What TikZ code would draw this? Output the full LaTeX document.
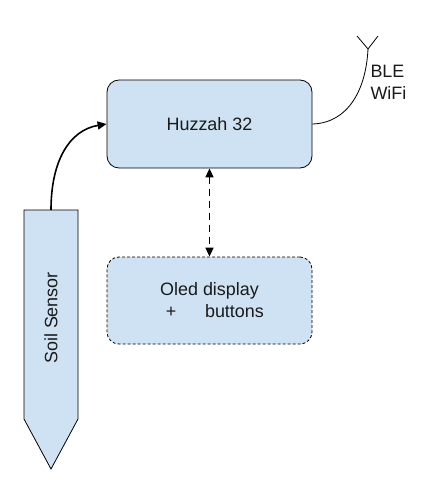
\documentclass[tikz,border=0pt]{standalone}
\usepackage{fontspec}
\setmainfont{Liberation Sans}
\usetikzlibrary{arrows.meta}

\definecolor{boxblue}{HTML}{CFE2F3}
\definecolor{textgray}{HTML}{1A1A1A}

\tikzset{
	blockbox/.style={draw=black, fill=boxblue, rounded corners=12bp, line width=0.8bp,
		minimum width=205bp, minimum height=88bp, align=center, text=textgray,
		font=\fontsize{18}{22}\selectfont},
	linkarrow/.style={line width=1.6bp, -{Triangle[length=9bp,width=8bp]}},
	busarrow/.style={line width=1.6bp, dash pattern=on 7bp off 5bp,
		{Triangle[length=9bp,width=8bp]}-{Triangle[length=9bp,width=8bp]}},
}

\begin{document}
\begin{tikzpicture}[x=1bp,y=-1bp]
	\useasboundingbox (0,0) rectangle (428,481);
	% main board
	\node[blockbox] (huzzah) at (209.5,124) {Huzzah 32};
	% display
	\node[blockbox, dash pattern=on 3bp off 2bp, minimum height=87bp] (oled) at (209.5,300.5) {Oled display\\ \hspace{0.6em}+\hspace{1.6em}buttons};
	% soil sensor probe
	\filldraw[draw=black, fill=boxblue, line width=0.8bp] (24,210) -- (78,210) -- (78,419) -- (51,469) -- (24,419) -- cycle;
	\coordinate (sensortop) at (51,210);
	\node[rotate=90, text=textgray, font=\fontsize{18}{22}\selectfont] (soil) at (51,318) {Soil Sensor};
	% antenna
	\coordinate (antenna) at (368,49);
	\draw[line width=0.8bp] (357,36) -- (antenna) -- (378,36);
	\draw[line width=0.8bp] (huzzah.east) .. controls (348,123) and (366,90) .. (antenna);
	\node[anchor=west, align=left, text=textgray, font=\fontsize{18}{22}\selectfont] (radio) at (367,82) {BLE\\WiFi};
	% connections
	\draw[linkarrow] (sensortop) .. controls (51,160) and (70,130) .. (huzzah.west);
	\draw[busarrow] (huzzah.south) -- (oled.north);
\end{tikzpicture}
\end{document}
